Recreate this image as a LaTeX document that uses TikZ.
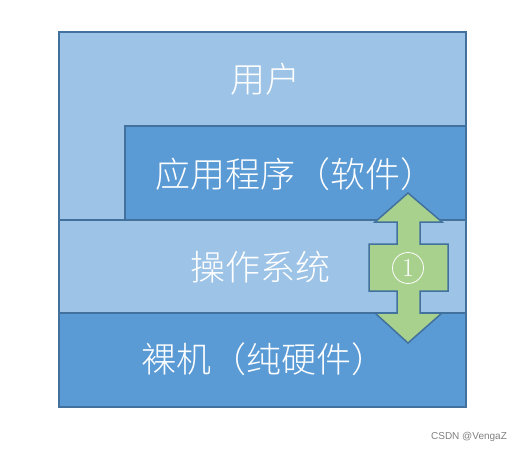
\documentclass[tikz,border=0pt]{standalone}
\usepackage{fontspec}
\newfontfamily\cjk{Noto Sans CJK SC Light}
\setsansfont{Liberation Sans}
\definecolor{lightblue}{HTML}{9DC3E6}
\definecolor{darkblue}{HTML}{5B9BD5}
\definecolor{edge}{HTML}{41719C}
\definecolor{green}{HTML}{A9D18E}
\begin{document}
\begin{tikzpicture}[x=1pt,y=-1pt,
  layer/.style={draw=edge,line width=1.5pt},
  lbl/.style={text=white,font=\cjk\fontsize{35}{35}\selectfont,inner sep=0pt}]
\useasboundingbox (0,0) rectangle (524,452);
\fill[white] (0,0) rectangle (524,452);
\draw[layer,fill=lightblue] (59,32) rectangle (466,220);
\draw[layer,fill=darkblue] (125,126) rectangle (466,220);
\draw[layer,fill=lightblue] (59,220) rectangle (466,313);
\draw[layer,fill=darkblue] (59,313) rectangle (466,407);
\node[lbl] (user) at (265,79) {用户};
\node[lbl] (app) at (295,174) {应用程序（软件）};
\node[lbl] (os) at (260,267) {操作系统};
\node[lbl] (hw) at (264,359) {裸机（纯硬件）};
\draw[draw=edge,line width=1.5pt,fill=green,line join=miter]
  (408,193) -- (442,222) -- (420,222) -- (420,244) -- (448,244) -- (448,291)
  -- (420,291) -- (420,313) -- (442,313) -- (408,343) -- (375,313) -- (397,313)
  -- (397,291) -- (369,291) -- (369,244) -- (397,244) -- (397,222) -- (375,222) -- cycle;
\node[circle,draw=white,line width=0.8pt,minimum size=31pt,inner sep=0pt,
  text=white,font=\fontsize{26}{26}\selectfont] (one) at (408,268) {1};
\node[text=gray,font=\sffamily\fontsize{10}{10}\selectfont,inner sep=0pt] (mark) at (469,437) {CSDN @VengaZ};
\end{tikzpicture}
\end{document}
